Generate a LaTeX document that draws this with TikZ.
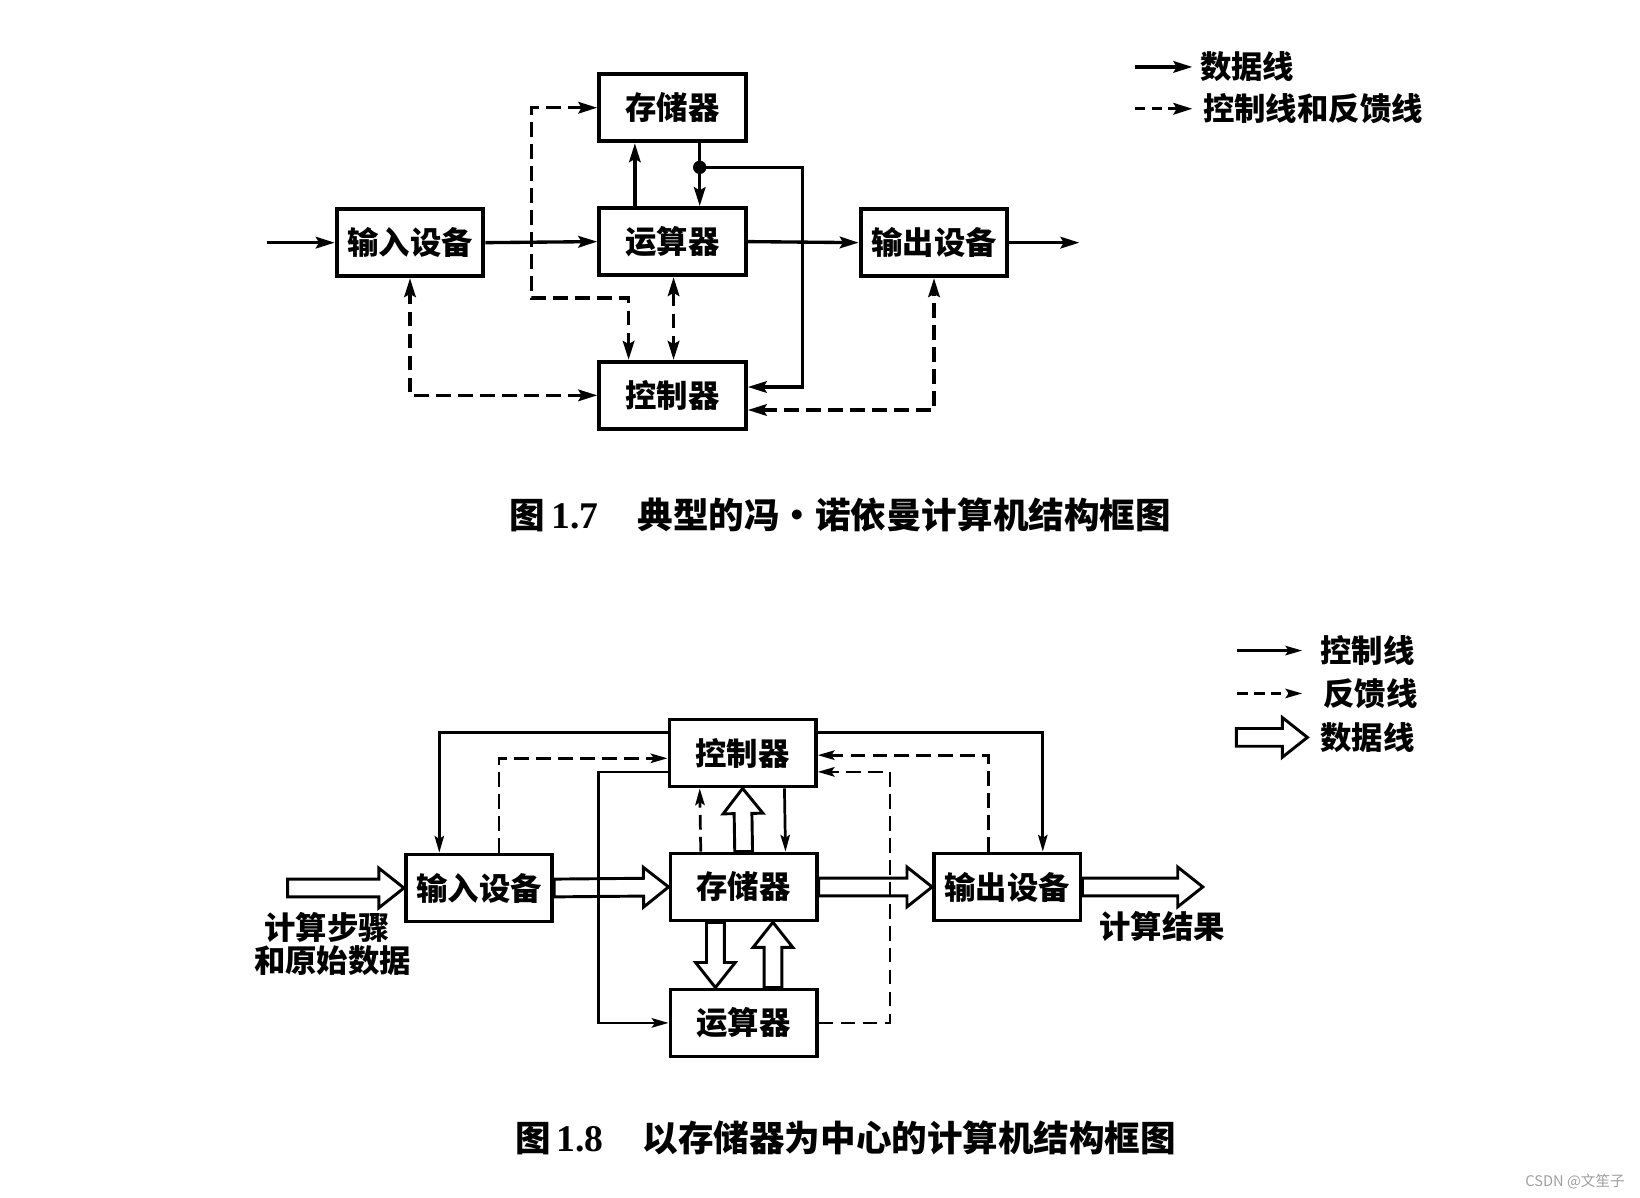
\documentclass[tikz,border=0pt]{standalone}
\usepackage{fontspec}
\setmainfont{Noto Sans CJK SC}
\newfontfamily\numfont{Liberation Serif}
\usetikzlibrary{arrows.meta,calc}

\tikzset{
 unitbox/.style={draw, line width=2pt, minimum width=70pt, minimum height=32pt, inner sep=0pt, font=\fontsize{15}{18}\selectfont\bfseries},
 unitboxb/.style={unitbox, line width=1.8pt},
 arr/.style={line width=1.6pt, -{Stealth[length=9pt,width=5.5pt,inset=1.5pt]}},
 biarr/.style={line width=1.6pt, {Stealth[length=9pt,width=5.5pt,inset=1.5pt]}-{Stealth[length=9pt,width=5.5pt,inset=1.5pt]}},
 arrb/.style={line width=1.3pt, -{Stealth[length=8pt,width=4.5pt,inset=1.5pt]}},
 dashline/.style={dash pattern=on 7pt off 3.5pt},
 hollow/.style={draw, line width=1.4pt, fill=white, line join=miter},
 lbl/.style={font=\fontsize{15}{18}\selectfont\bfseries, inner sep=0pt},
 captext/.style={font=\fontsize{17}{20}\selectfont\bfseries, inner sep=0pt, anchor=west},
}

\newcommand\hollowarrow[2]{%
 \coordinate (ha) at (#1);
 \coordinate (hb) at (#2);
 \coordinate (hh) at ($(hb)!12pt!(ha)$);
 \path[hollow] ($(ha)!4.25pt!90:(hb)$) -- ($(hh)!4.25pt!90:(hb)$) -- ($(hh)!9.5pt!90:(hb)$)
   -- (hb) -- ($(hh)!9.5pt!-90:(hb)$) -- ($(hh)!4.25pt!-90:(hb)$) -- ($(ha)!4.25pt!-90:(hb)$) -- cycle;
}

\begin{document}
\begin{tikzpicture}[x=0.5pt,y=-0.5pt]
\useasboundingbox (0,0) rectangle (1568,1145);

% ---------------- Figure 1.7 ----------------
\node[unitbox] (mem1) at (643,103) {存储器};
\node[unitbox] (alu1) at (643,231) {运算器};
\node[unitbox] (in1)  at (392,232) {输入设备};
\node[unitbox] (out1) at (893,232) {输出设备};
\node[unitbox] (ctl1) at (643,378) {控制器};

\coordinate (inStart) at (255,232);
\coordinate (outEnd) at (1032,232);
\draw[arr] (inStart) -- (in1.west);
\draw[arr] (in1.east) -- (alu1.west);
\draw[arr] (alu1.east) -- (out1.west);
\draw[arr] (out1.east) -- (outEnd);

\draw[arr] ([xshift=-18pt]alu1.north) -- ([xshift=-18pt]mem1.south);
\coordinate (dot1) at (669,160);
\draw[line width=1.6pt] ([xshift=13pt]mem1.south) -- (dot1);
\draw[arr] (dot1) -- ([xshift=13pt]alu1.north);
\fill (dot1) circle (3.2pt);
\coordinate (c1a) at (767,160);
\coordinate (c1b) at (767,370);
\draw[arr] (dot1) -- (c1a) -- (c1b) -- (c1b -| ctl1.east);

\draw[biarr,dashline] ([yshift=-7pt]ctl1.east) -| (out1.south);
\draw[biarr,dashline] (ctl1.west) -| (in1.south);
\draw[biarr,dashline] ([xshift=0.5pt]alu1.south) -- ([xshift=0.5pt]ctl1.north);
\coordinate (d1a) at (508,285);
\draw[biarr,dashline] (mem1.west) -| (d1a) -| ([xshift=-21pt]ctl1.north);

% legend 1
\coordinate (lg1a) at (1085,64);  \coordinate (lg1b) at (1140,64);
\coordinate (lg2a) at (1085,104); \coordinate (lg2b) at (1140,104);
\draw[arr] (lg1a) -- (lg1b);
\draw[arr,dash pattern=on 5pt off 3pt] (lg2a) -- (lg2b);
\node[lbl,anchor=west] (lgt1) at (1147,64) {数据线};
\node[lbl,anchor=west] (lgt2) at (1150,104) {控制线和反馈线};

\node[captext] (cap1) at (487,492) {图\,{\numfont\fontsize{18}{20}\selectfont 1.7}\hspace{1.1em}典型的冯・诺依曼计算机结构框图};

% ---------------- Figure 1.8 ----------------
\node[unitboxb] (ctl2) at (710,720) {控制器};
\node[unitboxb] (mem2) at (711,848) {存储器};
\node[unitboxb] (in2)  at (458,849) {输入设备};
\node[unitboxb] (out2) at (963,848) {输出设备};
\node[unitboxb] (alu2) at (711,978) {运算器};

\coordinate (hin) at (275,849);
\coordinate (hout) at (1150,848);
\hollowarrow{hin}{in2.west}
\hollowarrow{in2.east}{mem2.west}
\hollowarrow{mem2.east}{out2.west}
\hollowarrow{out2.east}{hout}
\hollowarrow{[xshift=-13.5pt]mem2.south}{[xshift=-13.5pt]alu2.north}
\hollowarrow{[xshift=14pt]alu2.north}{[xshift=14pt]mem2.south}
\hollowarrow{mem2.north}{ctl2.south}

\draw[arrb,dashline] ([xshift=-20.5pt]mem2.north) -- ([xshift=-20.5pt]ctl2.south);
\draw[arrb] ([xshift=20pt]ctl2.south) -- ([xshift=20pt]mem2.north);
\draw[arrb] ([yshift=10pt]ctl2.west) -| ([xshift=-19pt]in2.north);
\draw[arrb,dashline] ([xshift=9.5pt]in2.north) |- ([yshift=-2.5pt]ctl2.west);
\coordinate (s2b) at (572,978);
\draw[arrb] ([yshift=-9pt]ctl2.west) -| (s2b) -- (alu2.west);
\draw[arrb] ([yshift=10pt]ctl2.east) -| ([xshift=17pt]out2.north);
\draw[arrb,dashline] ([xshift=-9pt]out2.north) |- ([yshift=-1pt]ctl2.east);
\coordinate (s3) at (851,738);
\draw[arrb,dashline] (alu2.east) -| (s3) -- (s3 -| ctl2.east);

\node[lbl] (lab1) at (313,887) {计算步骤};
\node[lbl] (lab2) at (318,918) {和原始数据};
\node[lbl] (lab3) at (1111,886) {计算结果};

% legend 2
\coordinate (lh1a) at (1183,622); \coordinate (lh1b) at (1245,622);
\coordinate (lh2a) at (1183,663); \coordinate (lh2b) at (1245,663);
\coordinate (lh3a) at (1182,705); \coordinate (lh3b) at (1250,705);
\draw[arrb] (lh1a) -- (lh1b);
\draw[arrb,dash pattern=on 5pt off 3pt] (lh2a) -- (lh2b);
\hollowarrow{lh3a}{lh3b}
\node[lbl,anchor=west] (lht1) at (1262,622) {控制线};
\node[lbl,anchor=west] (lht2) at (1265,663) {反馈线};
\node[lbl,anchor=west] (lht3) at (1262,705) {数据线};

\node[captext] (cap2) at (492,1088) {图\,{\numfont\fontsize{18}{20}\selectfont 1.8}\hspace{1.1em}以存储器为中心的计算机结构框图};

\node[font=\fontsize{7}{8}\selectfont, text=gray!75, inner sep=0pt] (wm) at (1506,1130) {CSDN @文笙子};
\end{tikzpicture}
\end{document}
